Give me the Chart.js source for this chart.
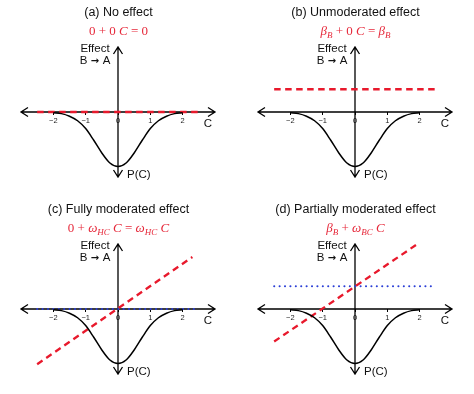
<!DOCTYPE html>
<html lang="en">
<head>
<meta charset="UTF-8">
<title>Moderated effects</title>
<script src="https://cdn.jsdelivr.net/npm/chart.js"></script>
<style>
  body { margin: 0; background: #fff; }
  #grid { position: relative; width: 474px; height: 394px; }
  .panel { position: absolute; width: 237px; height: 197px; }
  .panel canvas { position: absolute; left: 0; top: 0; }
  .title { position: absolute; left: 0; width: 237px; top: 5px; text-align: center;
           font: 12.5px "Liberation Sans", Arial, sans-serif; color: #111; }
  .formula { position: absolute; left: 0; width: 237px; top: 23px; text-align: center;
             font: 13px "Liberation Serif", serif; color: #e6283a; white-space: nowrap; }
  .formula sub { font-size: 9px; vertical-align: -3px; line-height: 0; }
</style>
</head>
<body>
<div id="grid"></div>
<script>
// axis range
const xMin = -3, xMax = 3, yMin = -2, yMax = 2;
const xTickValues = [-2, -1, 0, 1, 2];
const xTickLabels = ['−2', '−1', '0', '1', '2'];

// density curve P(C), drawn downwards
const curveX = [-2, -1.75, -1.5, -1.25, -1, -0.75, -0.5, -0.25, 0, 0.25, 0.5, 0.75, 1, 1.25, 1.5, 1.75, 2];
const curveY = [-0.02, -0.05, -0.13, -0.27, -0.51, -0.87, -1.26, -1.57, -1.68, -1.57, -1.26, -0.87, -0.51, -0.27, -0.13, -0.05, -0.02];

// panel titles and formulas
const titles = ['(a) No effect', '(b) Unmoderated effect', '(c) Fully moderated effect', '(d) Partially moderated effect'];
const formulas = [
  '0 + 0 <i>C</i> = 0',
  '<i>β</i><sub><i>B</i></sub> + 0 <i>C</i> = <i>β</i><sub><i>B</i></sub>',
  '0 + <i>ω</i><sub><i>HC</i></sub> <i>C</i> = <i>ω</i><sub><i>HC</i></sub> <i>C</i>',
  '<i>β</i><sub><i>B</i></sub> + <i>ω</i><sub><i>BC</i></sub> <i>C</i>'
];

// red dashed effect lines (x ends, y ends) per panel
const redX = [[-2.5, 2.5], [-2.5, 2.5], [-2.5, 2.3], [-2.5, 2.3]];
const redY = [[0, 0], [0.7, 0.7], [-1.7, 1.6], [-1.0, 2.25]];
// blue dotted baseline (beta_B), only in (c) and (d)
const blueX = [null, null, [-2.5, 2.5], [-2.5, 2.5]];
const blueY = [null, null, [0, 0], [0.7, 0.7]];

const pts = (xs, ys) => xs.map((v, i) => ({ x: v, y: ys[i] }));

const axisDecor = {
  id: 'axisDecor',
  beforeDatasetsDraw(chart) {
    const { ctx, scales: { x, y } } = chart;
    const x0 = x.getPixelForValue(0), y0 = y.getPixelForValue(0);
    const xl = x.getPixelForValue(xMin), xr = x.getPixelForValue(xMax);
    const yt = y.getPixelForValue(yMax), yb = y.getPixelForValue(yMin);
    const a = 7, b = 4.5;
    ctx.save();
    ctx.strokeStyle = '#000';
    ctx.lineWidth = 1.3;
    ctx.beginPath();
    ctx.moveTo(xl, y0); ctx.lineTo(xr, y0);
    ctx.moveTo(x0, yt); ctx.lineTo(x0, yb);
    ctx.moveTo(xl + a, y0 - b); ctx.lineTo(xl, y0); ctx.lineTo(xl + a, y0 + b);
    ctx.moveTo(xr - a, y0 - b); ctx.lineTo(xr, y0); ctx.lineTo(xr - a, y0 + b);
    ctx.moveTo(x0 - b, yt + a); ctx.lineTo(x0, yt); ctx.lineTo(x0 + b, yt + a);
    ctx.moveTo(x0 - b, yb - a); ctx.lineTo(x0, yb); ctx.lineTo(x0 + b, yb - a);
    ctx.stroke();
    ctx.fillStyle = '#111';
    ctx.font = '11.5px "Liberation Sans", Arial, sans-serif';
    ctx.textAlign = 'center';
    ctx.textBaseline = 'middle';
    ctx.fillText('Effect', x0 - 23, yt + 2);
    // "B → A" with a heavier arrow glyph
    const cx = x0 - 23, ly = yt + 14;
    ctx.fillText('B', cx - 11.5, ly);
    ctx.fillText('A', cx + 11.5, ly);
    ctx.font = 'bold 10px "DejaVu Sans", sans-serif';
    ctx.fillText('→', cx, ly);
    ctx.font = '11.5px "Liberation Sans", Arial, sans-serif';
    ctx.fillText('C', xr - 7, y0 + 12);
    ctx.textAlign = 'left';
    ctx.fillText('P(C)', x0 + 9, yb - 2);
    ctx.restore();
  }
};

const grid = document.getElementById('grid');
titles.forEach((t, i) => {
  const panel = document.createElement('div');
  panel.className = 'panel';
  panel.style.left = (i % 2) * 237 + 'px';
  panel.style.top = Math.floor(i / 2) * 197 + 'px';
  panel.innerHTML = '<canvas width="237" height="197"></canvas>' +
    '<div class="title">' + t + '</div><div class="formula">' + formulas[i] + '</div>';
  grid.appendChild(panel);

  const datasets = [
    { data: pts(curveX, curveY), borderColor: '#000', borderWidth: 1.5,
      tension: 0.4, cubicInterpolationMode: 'monotone', pointRadius: 0 }
  ];
  if (blueX[i]) {
    datasets.push({ data: pts(blueX[i], blueY[i]), borderColor: '#2b3fd6', borderWidth: 2,
      borderDash: [0.1, 5.3], borderCapStyle: 'round', pointRadius: 0 });
  }
  datasets.push({ data: pts(redX[i], redY[i]), borderColor: '#e8192c', borderWidth: 2.3,
    borderDash: [6.5, 4.5], pointRadius: 0 });

  new Chart(panel.querySelector('canvas'), {
    type: 'scatter',
    data: { datasets: datasets.map(d => Object.assign({ showLine: true, fill: false }, d)) },
    options: {
      responsive: false,
      animation: false,
      layout: { padding: { left: 21, right: 22, top: 47, bottom: 20 } },
      plugins: { legend: { display: false }, tooltip: { enabled: false } },
      scales: {
        x: {
          type: 'linear', min: xMin, max: xMax, position: { y: 0 },
          afterBuildTicks: s => { s.ticks = xTickValues.map(v => ({ value: v })); },
          grid: { drawOnChartArea: false, drawTicks: true, tickLength: 3, color: '#000', lineWidth: 1 },
          border: { display: false },
          ticks: { font: { size: 7.5, family: 'Liberation Sans' }, color: '#222', padding: 1,
                   maxRotation: 0, autoSkip: false,
                   callback: v => xTickLabels[xTickValues.indexOf(v)] }
        },
        y: { type: 'linear', min: yMin, max: yMax, display: false }
      }
    },
    plugins: [axisDecor]
  });
});
</script>
</body>
</html>
